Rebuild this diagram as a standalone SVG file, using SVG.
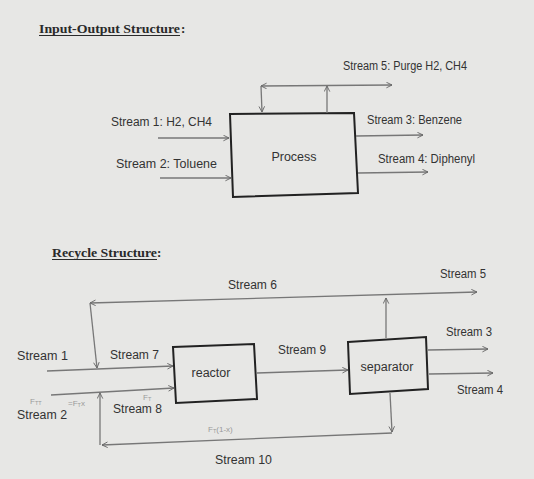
<svg xmlns="http://www.w3.org/2000/svg" width="534" height="479" viewBox="0 0 534 479">
<style>
.bg{fill:#e7e7e5}
.ttl{font-family:"Liberation Serif",serif;font-weight:bold;font-size:13px;fill:#2a2a2a}
.lbl{font-family:"Liberation Sans",Arial,sans-serif;font-size:12.5px;fill:#333}
.hw{font-family:"Liberation Sans",Arial,sans-serif;font-size:8px;fill:#9a9a9a}
.box{fill:none;stroke:#222;stroke-width:2}
.ln{fill:none;stroke:#777;stroke-width:1.3}
.ul{stroke:#2a2a2a;stroke-width:1}
</style>
<defs>
<marker id="arr" viewBox="0 0 10 10" refX="9" refY="5" markerWidth="7" markerHeight="7" markerUnits="userSpaceOnUse" orient="auto">
<path d="M1,1 L9,5 L1,9" fill="none" stroke="#666" stroke-width="1.3"/>
</marker>
<marker id="arrs" viewBox="0 0 10 10" refX="1" refY="5" markerWidth="7" markerHeight="7" markerUnits="userSpaceOnUse" orient="auto">
<path d="M9,1 L1,5 L9,9" fill="none" stroke="#666" stroke-width="1.3"/>
</marker>
</defs>
<rect class="bg" x="0" y="0" width="534" height="479"/>

<!-- Titles -->
<g id="title-io">
<text class="ttl" x="39" y="33" textLength="141" lengthAdjust="spacingAndGlyphs">Input-Output Structure</text>
<text class="ttl" x="181" y="33">:</text>
<line class="ul" x1="39" y1="35.5" x2="180" y2="35.5"/>
</g>
<g id="title-rec">
<text class="ttl" x="52" y="257" textLength="105" lengthAdjust="spacingAndGlyphs">Recycle Structure</text>
<text class="ttl" x="157" y="257">:</text>
<line class="ul" x1="52" y1="259.5" x2="157" y2="259.5"/>
</g>

<!-- Input-Output Structure nodes -->
<g id="process">
<polygon class="box" points="230,114 354,113 358,193 233,197"/>
<text class="lbl" x="294" y="161" text-anchor="middle">Process</text>
</g>

<!-- Recycle structure nodes -->
<g id="reactor">
<polygon class="box" points="173,347 254,344 257,399 176,403"/>
<text class="lbl" x="211" y="377" text-anchor="middle">reactor</text>
</g>
<g id="separator">
<polygon class="box" points="348,342 426,337 428,389 350,394"/>
<text class="lbl" x="387" y="371" text-anchor="middle">separator</text>
</g>

<!-- Connectors -->
<g id="connectors">
<!-- top diagram -->
<line class="ln" x1="158" y1="138" x2="229" y2="138" marker-end="url(#arr)"/>
<line class="ln" x1="160" y1="178" x2="231" y2="178" marker-end="url(#arr)"/>
<line class="ln" x1="356" y1="136" x2="423" y2="135" marker-end="url(#arr)"/>
<line class="ln" x1="358" y1="173" x2="428" y2="172" marker-end="url(#arr)"/>
<line class="ln" x1="327" y1="113" x2="327" y2="86" marker-end="url(#arr)"/>
<line class="ln" x1="261" y1="86" x2="392" y2="85" marker-start="url(#arrs)" marker-end="url(#arr)"/>
<line class="ln" x1="261" y1="86" x2="262" y2="112" marker-end="url(#arr)"/>

<!-- recycle diagram -->
<line class="ln" x1="90" y1="303" x2="477" y2="292" marker-start="url(#arrs)" marker-end="url(#arr)"/>
<line class="ln" x1="90" y1="303" x2="97" y2="368" marker-end="url(#arr)"/>
<line class="ln" x1="386" y1="338" x2="386" y2="298" marker-end="url(#arr)"/>
<line class="ln" x1="47" y1="371" x2="173" y2="366" marker-end="url(#arr)"/>
<line class="ln" x1="51" y1="395" x2="174" y2="388" marker-end="url(#arr)"/>
<line class="ln" x1="257" y1="373" x2="348" y2="370" marker-end="url(#arr)"/>
<line class="ln" x1="428" y1="350" x2="488" y2="349" marker-end="url(#arr)"/>
<line class="ln" x1="429" y1="374" x2="493" y2="373" marker-end="url(#arr)"/>
<line class="ln" x1="390" y1="393" x2="392" y2="432" marker-end="url(#arr)"/>
<line class="ln" x1="392" y1="433" x2="102" y2="445" marker-end="url(#arr)"/>
<line class="ln" x1="100" y1="445" x2="100" y2="393" marker-end="url(#arr)"/>
</g>

<!-- Labels -->
<g id="labels">
<text class="lbl" x="343" y="70" textLength="124" lengthAdjust="spacingAndGlyphs">Stream 5: Purge H2, CH4</text>
<text class="lbl" x="111" y="126" textLength="101" lengthAdjust="spacingAndGlyphs">Stream 1: H2, CH4</text>
<text class="lbl" x="116" y="168" textLength="101" lengthAdjust="spacingAndGlyphs">Stream 2: Toluene</text>
<text class="lbl" x="367" y="124" textLength="95" lengthAdjust="spacingAndGlyphs">Stream 3: Benzene</text>
<text class="lbl" x="378" y="163" textLength="97" lengthAdjust="spacingAndGlyphs">Stream 4: Diphenyl</text>

<text class="lbl" x="228" y="289" textLength="49" lengthAdjust="spacingAndGlyphs">Stream 6</text>
<text class="lbl" x="440" y="278" textLength="46" lengthAdjust="spacingAndGlyphs">Stream 5</text>
<text class="lbl" x="17" y="360" textLength="51" lengthAdjust="spacingAndGlyphs">Stream 1</text>
<text class="lbl" x="110" y="359" textLength="49" lengthAdjust="spacingAndGlyphs">Stream 7</text>
<text class="lbl" x="278" y="354" textLength="48" lengthAdjust="spacingAndGlyphs">Stream 9</text>
<text class="lbl" x="446" y="336" textLength="46" lengthAdjust="spacingAndGlyphs">Stream 3</text>
<text class="lbl" x="457" y="394" textLength="46" lengthAdjust="spacingAndGlyphs">Stream 4</text>
<text class="lbl" x="113" y="413" textLength="49" lengthAdjust="spacingAndGlyphs">Stream 8</text>
<text class="lbl" x="17" y="419" textLength="50" lengthAdjust="spacingAndGlyphs">Stream 2</text>
<text class="lbl" x="215" y="464" textLength="57" lengthAdjust="spacingAndGlyphs">Stream 10</text>

<!-- pencil notes -->
<text class="hw" x="30" y="404">F<tspan font-size="5.5" dy="1">TT</tspan></text>
<text class="hw" x="68" y="406">=F<tspan font-size="5.5" dy="1">T</tspan><tspan dy="-1">x</tspan></text>
<text class="hw" x="143" y="400">F<tspan font-size="5.5" dy="1">T</tspan></text>
<text class="hw" x="208" y="432">F<tspan font-size="5.5" dy="1">T</tspan><tspan dy="-1">(1-x)</tspan></text>
</g>
</svg>
